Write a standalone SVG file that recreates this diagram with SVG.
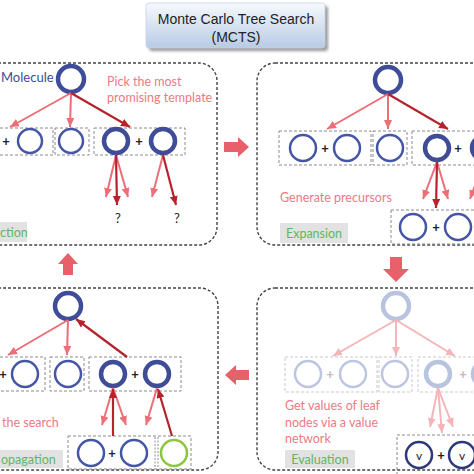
<svg xmlns="http://www.w3.org/2000/svg" width="474" height="474" viewBox="0 0 474 474">
<defs>
<linearGradient id="tg" x1="0" y1="0" x2="0" y2="1">
<stop offset="0" stop-color="#f7f9fd"/>
<stop offset="1" stop-color="#b7cbe6"/>
</linearGradient>
<filter id="sh" x="-10%" y="-10%" width="130%" height="140%">
<feGaussianBlur stdDeviation="1.5"/>
</filter>
<marker id="ha" markerUnits="userSpaceOnUse" markerWidth="10" markerHeight="10" refX="9" refY="4" orient="auto"><path d="M0,0 L9,4 L0,8 z" fill="#ec6e76"/></marker>
<marker id="hd" markerUnits="userSpaceOnUse" markerWidth="10" markerHeight="10" refX="9" refY="4" orient="auto"><path d="M0,0 L9,4 L0,8 z" fill="#b5232d"/></marker>
<marker id="hf" markerUnits="userSpaceOnUse" markerWidth="10" markerHeight="10" refX="9" refY="4" orient="auto"><path d="M0,0 L9,4 L0,8 z" fill="#f4b5b9"/></marker>
</defs>
<style>
.panel{fill:none;stroke:#444;stroke-width:1.4;stroke-dasharray:3 2}
.box{fill:none;stroke:#8a8a8a;stroke-width:1;stroke-dasharray:3 2}
.fbox{fill:none;stroke:#c9c9c9;stroke-width:1;stroke-dasharray:3 2}
.thin{fill:#fff;stroke:#4656a6;stroke-width:2.5}
.thick{fill:#fff;stroke:#3f4d98;stroke-width:4.5}
.fthin{fill:#fff;stroke:#bcc6e0;stroke-width:2.5}
.fthick{fill:#fff;stroke:#b8c3de;stroke-width:4.5}
.navy{fill:#fff;stroke:#2c3a7c;stroke-width:2.5}
.green{fill:#fff;stroke:#8cc63f;stroke-width:2.5}
.la{stroke:#ec6e76;stroke-width:2;marker-end:url(#ha)}
.da{stroke:#b5232d;stroke-width:2.2;marker-end:url(#hd)}
.fa{stroke:#f4b5b9;stroke-width:2;marker-end:url(#hf)}
.big{fill:#e8606a}
text{font-family:Lato,"Open Sans",sans-serif}
.pink{fill:#ec7a84;font-size:12.5px}
.plus{fill:#222;font-size:13px;font-weight:bold;text-anchor:middle}
.fplus{fill:#c8b8bc;font-size:13px;font-weight:bold;text-anchor:middle}
.q{fill:#222;font-size:13px;text-anchor:middle}
.lblr{fill:#e2e2e2}
.lblt{fill:#5cb860;font-size:12.5px}
.title{font-family:"Liberation Sans",Arial,sans-serif;font-size:14px;fill:#222;text-anchor:middle}
</style>

<g id="title">
<rect x="149" y="6" width="179" height="45" rx="3" fill="#9a9a9a" filter="url(#sh)"/>
<rect x="146" y="3" width="179" height="45" rx="3" fill="url(#tg)" stroke="#c5d2e6" stroke-width="0.8"/>
<text class="title" x="236" y="24">Monte Carlo Tree Search</text>
<text class="title" x="236" y="42">(MCTS)</text>
</g>

<g id="panel-arrows">
<polygon class="big" points="224,142 238,142 238,137 249,147 238,157 238,152 224,152"/>
<polygon class="big" points="390,257 402,257 402,269 409,269 396,282 383,269 390,269"/>
<polygon class="big" points="63,275 73,275 73,264 78,264 68,253 58,264 63,264"/>
<polygon class="big" points="249,370 236,370 236,365 225,375 236,385 236,380 249,380"/>
</g>

<g id="selection">
<rect class="panel" x="-20" y="63" width="237" height="182" rx="18"/>
<text x="1" y="82" fill="#3f4d98" font-size="13">Molecule</text>
<text class="pink" x="107" y="86">Pick the most</text>
<text class="pink" x="107" y="102">promising template</text>
<rect class="box" x="-10" y="128" width="63" height="27"/>
<rect class="box" x="55" y="128" width="34" height="27"/>
<rect class="box" x="94" y="128" width="91" height="27"/>
<circle class="thick" cx="71" cy="79" r="13"/>
<text class="plus" x="6" y="146">+</text>
<circle class="thin" cx="30" cy="141" r="12"/>
<circle class="thin" cx="71" cy="141" r="12"/>
<circle class="thick" cx="116" cy="141" r="12"/>
<text class="plus" x="139" y="146">+</text>
<circle class="thick" cx="163" cy="141" r="12"/>
<text class="q" x="118" y="223">?</text>
<text class="q" x="177" y="223">?</text>
<rect class="lblr" x="-10" y="222" width="37" height="20"/>
<text class="lblt" x="0" y="237">ction</text>
</g>

<g id="expansion">
<rect class="panel" x="257" y="63" width="240" height="182" rx="18"/>
<text class="pink" x="280" y="202">Generate precursors</text>
<rect class="box" x="279" y="131" width="92" height="34"/>
<rect class="box" x="373" y="131" width="34" height="34"/>
<rect class="box" x="412" y="131" width="80" height="34"/>
<rect class="box" x="391" y="210" width="100" height="34"/>
<circle class="thick" cx="388" cy="80" r="13"/>
<circle class="thin" cx="303" cy="148" r="13"/>
<text class="plus" x="325" y="153">+</text>
<circle class="thin" cx="347" cy="148" r="13"/>
<circle class="thin" cx="390" cy="148" r="13"/>
<circle class="thick" cx="437" cy="148" r="12"/>
<text class="plus" x="458" y="153">+</text>
<circle class="thick" cx="484" cy="148" r="12"/>
<circle class="thin" cx="413" cy="227" r="13"/>
<text class="plus" x="436" y="232">+</text>
<circle class="thin" cx="458" cy="227" r="13"/>
<rect class="lblr" x="280" y="223" width="68" height="20"/>
<text class="lblt" x="314" y="238" text-anchor="middle">Expansion</text>
</g>

<g id="backpropagation">
<rect class="panel" x="-20" y="288" width="238" height="182" rx="18"/>
<text class="pink" x="2" y="427">the search</text>
<rect class="box" x="-10" y="357" width="55" height="34"/>
<rect class="box" x="50" y="357" width="34" height="34"/>
<rect class="box" x="89" y="357" width="92" height="34"/>
<rect class="box" x="68" y="436" width="123" height="33"/>
<line x1="155" y1="437" x2="155" y2="468" stroke="#8a8a8a" stroke-width="1" stroke-dasharray="2 1.5"/>
<line x1="158" y1="437" x2="158" y2="468" stroke="#8a8a8a" stroke-width="1" stroke-dasharray="2 1.5"/>
<circle class="thick" cx="68" cy="306" r="13"/>
<text class="plus" x="3" y="379">+</text>
<circle class="thin" cx="25" cy="374" r="13"/>
<circle class="thin" cx="68" cy="374" r="13"/>
<circle class="thick" cx="113" cy="374" r="12"/>
<text class="plus" x="135" y="379">+</text>
<circle class="thick" cx="157" cy="374" r="12"/>
<circle class="thin" cx="91" cy="453" r="13"/>
<text class="plus" x="112" y="458">+</text>
<circle class="thin" cx="134" cy="453" r="13"/>
<circle class="green" cx="174" cy="453" r="13"/>
<rect class="lblr" x="-10" y="450" width="73" height="18"/>
<text class="lblt" x="1" y="464">opagation</text>
</g>

<g id="evaluation">
<rect class="panel" x="257" y="288" width="240" height="182" rx="18"/>
<text class="pink" x="285" y="410">Get values of leaf</text>
<text class="pink" x="285" y="427">nodes via a value</text>
<text class="pink" x="285" y="443">network</text>
<rect class="fbox" x="285" y="357" width="92" height="35"/>
<rect class="fbox" x="379" y="357" width="33" height="35"/>
<rect class="fbox" x="418" y="357" width="70" height="35"/>
<rect class="box" x="397" y="435" width="90" height="40"/>
<circle class="fthick" cx="396" cy="306" r="13"/>
<circle class="fthin" cx="308" cy="374" r="13"/>
<text class="fplus" x="330" y="379">+</text>
<circle class="fthin" cx="353" cy="374" r="13"/>
<circle class="fthin" cx="395" cy="374" r="13"/>
<circle class="fthick" cx="438" cy="374" r="12"/>
<text class="fplus" x="463" y="379">+</text>
<circle class="fthick" cx="485" cy="374" r="12"/>
<circle class="navy" cx="419" cy="455" r="13"/>
<text x="419" y="460" font-size="12" fill="#222" text-anchor="middle">v</text>
<text class="plus" x="441" y="460">+</text>
<circle class="navy" cx="462" cy="455" r="13"/>
<text x="462" y="460" font-size="12" fill="#222" text-anchor="middle">v</text>
<rect class="lblr" x="285" y="450" width="70" height="18"/>
<text class="lblt" x="320" y="464" text-anchor="middle">Evaluation</text>
</g>

<g id="connectors">
<line class="la" x1="71" y1="93" x2="10" y2="127"/>
<line class="la" x1="71" y1="93" x2="70" y2="127"/>
<line class="da" x1="71" y1="93" x2="130" y2="127"/>
<line class="la" x1="116" y1="155" x2="106" y2="197"/>
<line class="la" x1="116" y1="155" x2="128" y2="197"/>
<line class="da" x1="116" y1="155" x2="117" y2="205"/>
<line class="la" x1="163" y1="155" x2="152" y2="197"/>
<line class="da" x1="163" y1="155" x2="176" y2="205"/>

<line class="la" x1="388" y1="94" x2="327" y2="129"/>
<line class="la" x1="388" y1="94" x2="388" y2="129"/>
<line class="da" x1="388" y1="94" x2="448" y2="129"/>
<line class="la" x1="437" y1="162" x2="423" y2="199"/>
<line class="la" x1="437" y1="162" x2="448" y2="199"/>
<line class="da" x1="437" y1="162" x2="436" y2="208"/>
<line class="la" x1="484" y1="162" x2="470" y2="199"/>

<line class="la" x1="68" y1="320" x2="8" y2="355"/>
<line class="la" x1="68" y1="320" x2="67" y2="355"/>
<line class="da" x1="127" y1="357" x2="76" y2="319"/>
<line class="la" x1="113" y1="388" x2="102" y2="425"/>
<line class="la" x1="113" y1="388" x2="126" y2="425"/>
<line class="da" x1="113" y1="436" x2="113" y2="389"/>
<line class="la" x1="157" y1="388" x2="146" y2="425"/>
<line class="da" x1="172" y1="436" x2="158" y2="389"/>

<line class="fa" x1="396" y1="320" x2="333" y2="356"/>
<line class="fa" x1="396" y1="320" x2="396" y2="356"/>
<line class="fa" x1="396" y1="320" x2="455" y2="356"/>
<line class="fa" x1="438" y1="388" x2="430" y2="427"/>
<line class="fa" x1="438" y1="388" x2="453" y2="427"/>
<line class="fa" x1="438" y1="388" x2="442" y2="433"/>
</g>
</svg>
